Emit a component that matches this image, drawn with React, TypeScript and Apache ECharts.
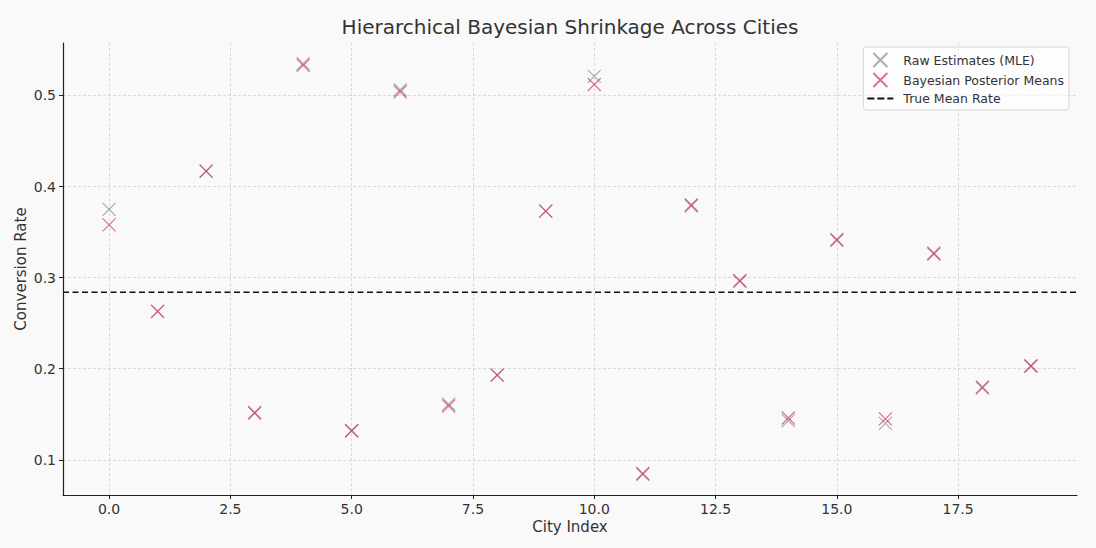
import { useEffect, useRef } from "react";
import * as echarts from "echarts";

// city index 0..19
const cityIndex = [0, 1, 2, 3, 4, 5, 6, 7, 8, 9, 10, 11, 12, 13, 14, 15, 16, 17, 18, 19];
const rawEstimates = [
  0.375, 0.263, 0.417, 0.151, 0.535, 0.132, 0.506, 0.161, 0.193, 0.373,
  0.521, 0.084, 0.38, 0.297, 0.143, 0.342, 0.14, 0.327, 0.18, 0.203,
];
const posteriorMeans = [
  0.358, 0.263, 0.417, 0.152, 0.533, 0.132, 0.504, 0.159, 0.193, 0.373,
  0.512, 0.085, 0.379, 0.296, 0.146, 0.341, 0.145, 0.326, 0.179, 0.203,
];
const trueMeanRate = 0.284;
const xTicks = [0, 2.5, 5, 7.5, 10, 12.5, 15, 17.5];
const yTicks = [0.1, 0.2, 0.3, 0.4, 0.5];
const xLimits = [-0.95, 19.95];
const yLimits = [0.0614, 0.5576];

const CROSS = "path://M0,0L10,10M10,0L0,10";
const DASHES = "path://M0,0h7v2h-7zM10,0h7v2h-7zM20,0h6v2h-6z";
const FONT = "DejaVu Sans";

export default function App() {
  const ref = useRef<HTMLDivElement>(null);

  useEffect(() => {
    if (!ref.current) return;
    const chart = echarts.init(ref.current, undefined, { renderer: "svg" });

    const axisCommon = {
      axisLine: { show: true, onZero: false, lineStyle: { color: "#222", width: 1.2 } },
      axisTick: { show: true, length: 4, lineStyle: { color: "#222" } },
      splitLine: {
        show: true,
        lineStyle: { color: "#d0d0d0", type: [3, 2], width: 0.8 },
      },
      nameMoveOverlap: false,
      nameTextStyle: { fontFamily: FONT, fontSize: 15, color: "#333" },
    };
    const labelCommon = {
      formatter: (v: number) => v.toFixed(1),
      fontFamily: FONT,
      fontSize: 14,
      color: "#333",
      margin: 7,
    };

    chart.setOption({
      animation: false,
      backgroundColor: "#f9f9f9",
      textStyle: { fontFamily: FONT },
      title: {
        text: "Hierarchical Bayesian Shrinkage Across Cities",
        left: 565,
        textAlign: "center",
        top: 12,
        textStyle: { fontFamily: FONT, fontSize: 20, fontWeight: "normal", color: "#333" },
      },
      legend: {
        orient: "vertical",
        right: 27,
        top: 47,
        itemWidth: 26,
        itemHeight: 14,
        itemGap: 4,
        padding: [5, 5, 5, 4],
        backgroundColor: "rgba(255,255,255,0.6)",
        borderColor: "#d4d4d4",
        borderWidth: 1,
        borderRadius: 3,
        textStyle: { fontFamily: FONT, fontSize: 12.5, color: "#333", padding: [0, 0, 0, 5] },
        data: [
          { name: "Raw Estimates (MLE)" },
          { name: "Bayesian Posterior Means" },
          { name: "True Mean Rate", icon: DASHES, itemStyle: { color: "#111" } },
        ],
      },
      grid: { left: 63, right: 19, top: 43, bottom: 53 },
      xAxis: {
        type: "value",
        min: xLimits[0],
        max: xLimits[1],
        name: "City Index",
        nameLocation: "middle",
        nameGap: 24,
        ...axisCommon,
        axisTick: { ...axisCommon.axisTick, customValues: xTicks },
        axisLabel: { ...labelCommon, customValues: xTicks },
      },
      yAxis: {
        type: "value",
        min: yLimits[0],
        max: yLimits[1],
        name: "Conversion Rate",
        nameLocation: "middle",
        nameGap: 35,
        ...axisCommon,
        axisTick: { ...axisCommon.axisTick, customValues: yTicks },
        axisLabel: { ...labelCommon, customValues: yTicks },
      },
      series: [
        {
          name: "Raw Estimates (MLE)",
          type: "scatter",
          symbol: CROSS,
          symbolSize: 13,
          itemStyle: {
            color: "transparent",
            borderColor: "rgba(120,120,120,0.75)",
            borderWidth: 1.25,
          },
          data: cityIndex.map((c, i) => [c, rawEstimates[i]]),
          z: 3,
        },
        {
          name: "Bayesian Posterior Means",
          type: "scatter",
          symbol: CROSS,
          symbolSize: 13,
          itemStyle: {
            color: "transparent",
            borderColor: "rgba(210,30,70,0.78)",
            borderWidth: 1.25,
          },
          data: cityIndex.map((c, i) => [c, posteriorMeans[i]]),
          z: 4,
        },
        {
          name: "True Mean Rate",
          type: "line",
          symbol: "none",
          lineStyle: { color: "#111", width: 1.6, type: [6, 3.5] },
          itemStyle: { color: "#111" },
          data: [
            [xLimits[0], trueMeanRate],
            [xLimits[1], trueMeanRate],
          ],
          z: 2,
        },
      ],
    });

    return () => chart.dispose();
  }, []);

  return (
    <div
      ref={ref}
      style={{ position: "fixed", left: 0, top: 0, width: 1096, height: 548 }}
    />
  );
}
